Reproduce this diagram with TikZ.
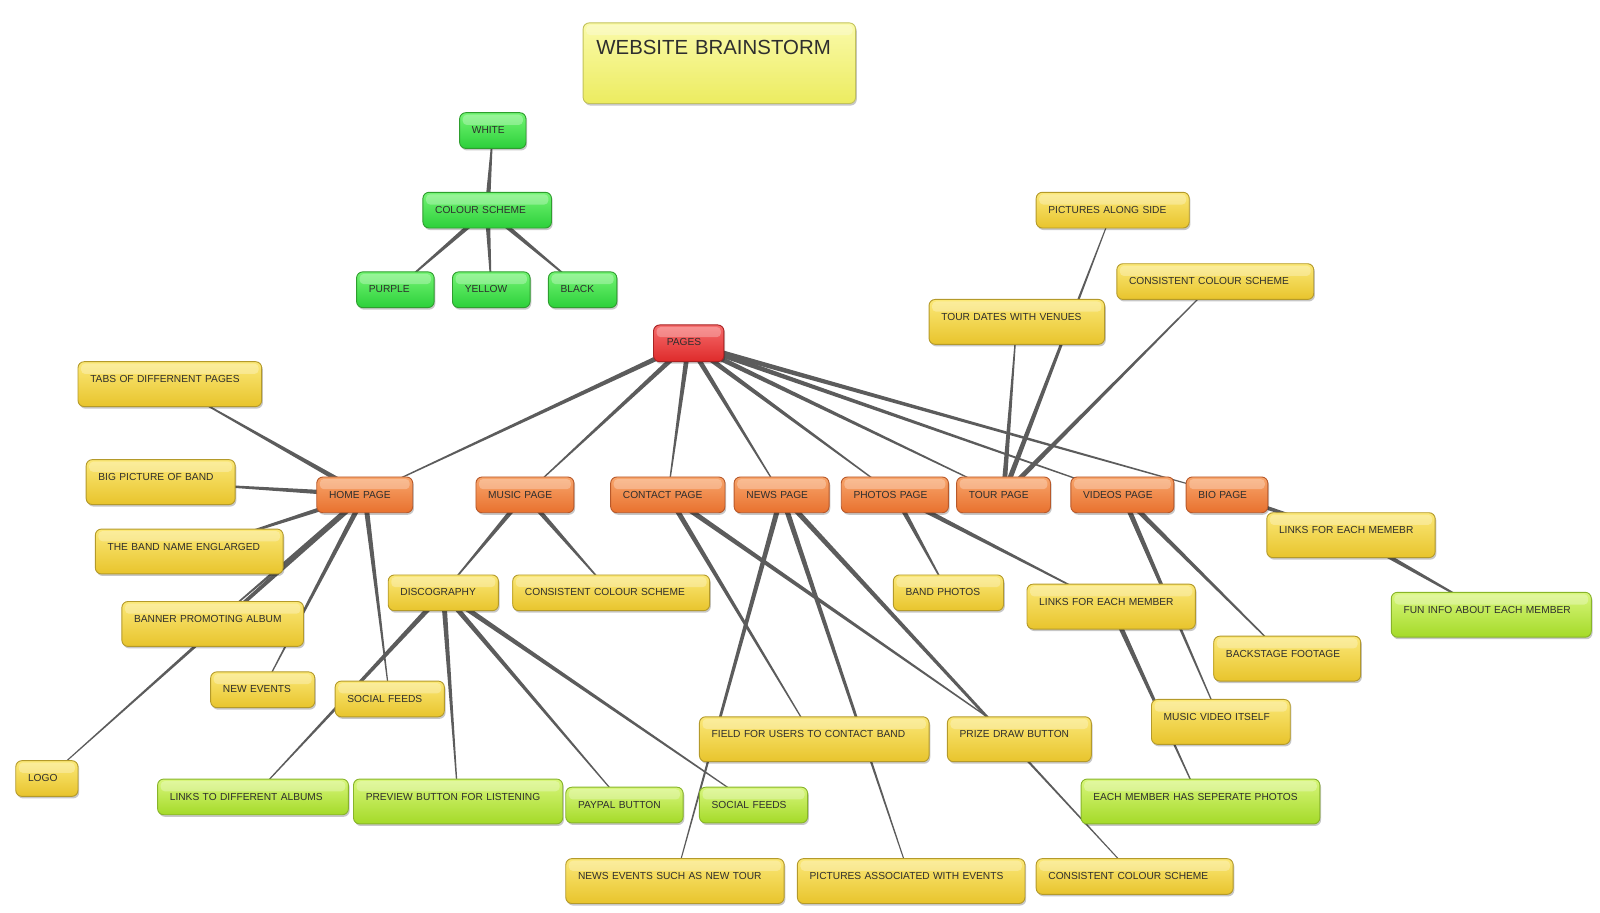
\documentclass[tikz,border=0pt]{standalone}
\usepackage{fontspec}
\setmainfont{Liberation Sans}
\usetikzlibrary{calc,shadows}
\pgfdeclarelayer{bg}
\pgfsetlayers{bg,main}
\definecolor{txt}{HTML}{2E2E2E}
\definecolor{lnk}{HTML}{5C5C5C}
\definecolor{ytp}{HTML}{FBE878}\definecolor{ybt}{HTML}{E8C42C}\definecolor{ybd}{HTML}{B49A2A}
\definecolor{otp}{HTML}{F8A56C}\definecolor{obt}{HTML}{E8712E}\definecolor{obd}{HTML}{B8592A}
\definecolor{rtp}{HTML}{F66C6C}\definecolor{rbt}{HTML}{DE2A2A}\definecolor{rbd}{HTML}{A82222}
\definecolor{gtp}{HTML}{74F474}\definecolor{gbt}{HTML}{2CD03A}\definecolor{gbd}{HTML}{2E9E2E}
\definecolor{ltp}{HTML}{D8F67C}\definecolor{lbt}{HTML}{A4DA28}\definecolor{lbd}{HTML}{88B42A}
\definecolor{ttp}{HTML}{FAFAAA}\definecolor{tbt}{HTML}{ECEC60}\definecolor{tbd}{HTML}{C2C25A}
\tikzset{
  box/.style={draw, line width=0.9pt, rounded corners=6pt, anchor=north west,
    inner xsep=0pt, inner ysep=0pt, align=left, font=\fontsize{10}{12}\selectfont,
    text=txt, text height=20.6pt,
    drop shadow={shadow xshift=1.2pt, shadow yshift=-2pt, opacity=0.22, fill=black},
    path picture={\fill[white,opacity=0.28,rounded corners=4pt]
      ($(path picture bounding box.north west)+(3pt,-2pt)$) rectangle
      ($(path picture bounding box.north east)+(-3pt,-12pt)$);}},
  shortbox/.style={text depth=14.4pt},
  tallbox/.style={text depth=23.4pt},
  yel/.style={box, draw=ybd, top color=ytp, bottom color=ybt},
  org/.style={box, draw=obd, top color=otp, bottom color=obt},
  redb/.style={box, draw=rbd, top color=rtp, bottom color=rbt},
  grn/.style={box, draw=gbd, top color=gtp, bottom color=gbt},
  lgr/.style={box, draw=lbd, top color=ltp, bottom color=lbt},
  ttl/.style={box, draw=tbd, top color=ttp, bottom color=tbt,
    font=\fontsize{20}{24}\selectfont, text height=31pt, text depth=48pt},
  conn/.style={fill=lnk}
}
\newcommand\bx[6]{\node[#5, text width=#4pt] (#1) at (#2,#3) {\noindent\hspace*{12pt}#6};}
\newcommand\conn[2]{\fill[conn] let \p1=(#1.center), \p2=(#2.center),
  \n1={atan2(\y2-\y1,\x2-\x1)} in
  ($(\p1)+(\n1+90:2.6pt)$) -- ($(\p2)+(\n1+90:0.4pt)$) --
  ($(\p2)+(\n1-90:0.4pt)$) -- ($(\p1)+(\n1-90:2.6pt)$) -- cycle;}
\begin{document}
\begin{tikzpicture}[x=1pt,y=-1pt]
\useasboundingbox (0,0) rectangle (1568,894.7);
% title
\node[ttl, text width=267pt] (title) at (571,22) {\noindent\hspace*{13pt}WEBSITE BRAINSTORM};
% colour scheme group
\bx{cwhite}{450}{110}{65}{grn,shortbox}{WHITE}
\bx{cs}{414}{188}{126}{grn,shortbox}{COLOUR SCHEME}
\bx{cpurple}{349}{266}{76}{grn,shortbox}{PURPLE}
\bx{cyellow}{443}{266}{76}{grn,shortbox}{YELLOW}
\bx{cblack}{537}{266}{67}{grn,shortbox}{BLACK}
% pages
\node[redb, shortbox, text depth=15.4pt, text width=69pt] (pages) at (640,318) {\noindent\hspace*{13pt}PAGES};
\bx{home}{310}{467}{94}{org,shortbox}{HOME PAGE}
\bx{music}{466}{467}{96}{org,shortbox}{MUSIC PAGE}
\bx{contact}{598}{467}{112}{org,shortbox}{CONTACT PAGE}
\bx{news}{719}{467}{93}{org,shortbox}{NEWS PAGE}
\bx{photos}{824}{467}{105}{org,shortbox}{PHOTOS PAGE}
\bx{tour}{937}{467}{92}{org,shortbox}{TOUR PAGE}
\bx{videos}{1049}{467}{101}{org,shortbox}{VIDEOS PAGE}
\bx{bio}{1162}{467}{80}{org,shortbox}{BIO PAGE}
% yellow
\bx{tabs}{76}{354}{180}{yel,tallbox}{TABS OF DIFFERNENT PAGES}
\bx{big}{84}{450}{146}{yel,tallbox}{BIG PICTURE OF BAND}
\bx{bandname}{93}{518}{184}{yel,tallbox}{THE BAND NAME ENGLARGED}
\bx{banner}{119}{589}{178}{yel,tallbox}{BANNER PROMOTING ALBUM}
\bx{newev}{206}{658}{102}{yel,shortbox}{NEW EVENTS}
\bx{sfl}{328}{667}{107}{yel,shortbox}{SOCIAL FEEDS}
\bx{logo}{15}{745}{61}{yel,shortbox}{LOGO}
\bx{disco}{380}{563}{108}{yel,shortbox}{DISCOGRAPHY}
\bx{ccsm}{502}{563}{193}{yel,shortbox}{CONSISTENT COLOUR SCHEME}
\bx{bandph}{875}{563}{108}{yel,shortbox}{BAND PHOTOS}
\bx{lfem}{1006}{572}{165}{yel,tallbox}{LINKS FOR EACH MEMBER}
\bx{lfemb}{1241}{502}{165}{yel,tallbox}{LINKS FOR EACH MEMEBR}
\bx{field}{685}{702}{225}{yel,tallbox}{FIELD FOR USERS TO CONTACT BAND}
\bx{prize}{928}{702}{141}{yel,tallbox}{PRIZE DRAW BUTTON}
\bx{mvi}{1128}{685}{136}{yel,tallbox}{MUSIC VIDEO ITSELF}
\bx{back}{1189}{623}{144}{yel,tallbox}{BACKSTAGE FOOTAGE}
\bx{newsev}{554}{841}{214}{yel,tallbox}{NEWS EVENTS SUCH AS NEW TOUR}
\bx{picass}{781}{841}{223}{yel,tallbox}{PICTURES ASSOCIATED WITH EVENTS}
\bx{ccsb}{1015}{841}{193}{yel,shortbox}{CONSISTENT COLOUR SCHEME}
\bx{pas}{1015}{188}{150}{yel,shortbox}{PICTURES ALONG SIDE}
\bx{ccst}{1094}{258}{193}{yel,shortbox}{CONSISTENT COLOUR SCHEME}
\bx{tdv}{910}{293}{172}{yel,tallbox}{TOUR DATES WITH VENUES}
% light green
\bx{lda}{154}{763}{187}{lgr,shortbox}{LINKS TO DIFFERENT ALBUMS}
\bx{prev}{346}{763}{205}{lgr,tallbox}{PREVIEW BUTTON FOR LISTENING}
\bx{paypal}{554}{771}{115}{lgr,shortbox}{PAYPAL BUTTON}
\bx{sfr}{685}{771}{106}{lgr,shortbox}{SOCIAL FEEDS}
\bx{emhsp}{1059}{763}{234}{lgr,tallbox}{EACH MEMBER HAS SEPERATE PHOTOS}
\bx{fun}{1363}{580}{196}{lgr,tallbox}{FUN INFO ABOUT EACH MEMBER}
% connectors
\begin{pgfonlayer}{bg}
\conn{cs}{cwhite}\conn{cs}{cpurple}\conn{cs}{cyellow}\conn{cs}{cblack}
\conn{pages}{home}\conn{pages}{music}\conn{pages}{contact}\conn{pages}{news}
\conn{pages}{photos}\conn{pages}{tour}\conn{pages}{videos}\conn{pages}{bio}
\conn{home}{tabs}\conn{home}{big}\conn{home}{bandname}\conn{home}{banner}
\conn{home}{logo}\conn{home}{newev}\conn{home}{sfl}
\conn{music}{disco}\conn{music}{ccsm}
\conn{disco}{lda}\conn{disco}{prev}\conn{disco}{paypal}\conn{disco}{sfr}
\conn{contact}{field}\conn{contact}{prize}
\conn{news}{newsev}\conn{news}{picass}\conn{news}{ccsb}
\conn{photos}{bandph}\conn{photos}{lfem}\conn{lfem}{emhsp}
\conn{tour}{tdv}\conn{tour}{pas}\conn{tour}{ccst}
\conn{videos}{mvi}\conn{videos}{back}
\conn{bio}{lfemb}\conn{lfemb}{fun}
\end{pgfonlayer}
\end{tikzpicture}
\end{document}
